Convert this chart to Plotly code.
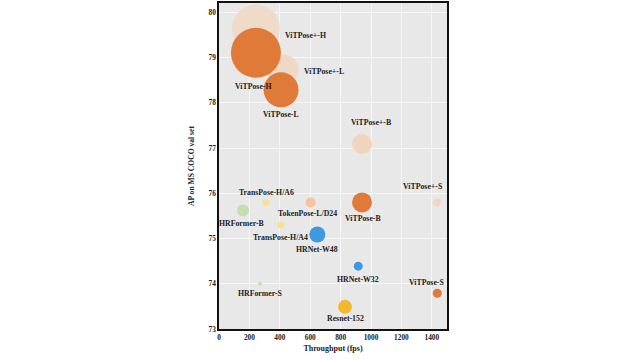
import plotly.graph_objects as go

models = ["ViTPose+-H", "ViTPose+-L", "ViTPose+-B", "ViTPose+-S",
          "ViTPose-H", "ViTPose-L", "ViTPose-B", "ViTPose-S",
          "TokenPose-L/D24", "TransPose-H/A6", "TransPose-H/A4",
          "HRFormer-B", "HRFormer-S", "HRNet-W48", "HRNet-W32", "Resnet-152"]
throughput = [243, 421, 941, 1434,
              243, 408, 941, 1436,
              603, 309, 405,
              158, 270, 647, 916, 829]
ap = [79.65, 78.73, 77.09, 75.80,
      79.11, 78.29, 75.80, 73.79,
      75.80, 75.80, 75.30,
      75.62, 74.00, 75.09, 74.39, 73.49]
bubble = [48, 31, 20, 8,
          50, 35, 20, 9,
          10, 7, 7,
          12, 4, 16, 9, 14]
colors = ["#efdbc9", "#efd8c4", "#f0d4bd", "#f2d3bd",
          "#e07a38", "#e07a38", "#e07a38", "#e07a38",
          "#f5c49f", "#f8e08c", "#f8e08c",
          "#c4deaf", "#c4deaf", "#3d9ae0", "#3d9ae0", "#f4b82e"]
# label offsets in pixels (dx right, dy down)
label_dx = [50, 41, 9, -14, -2, 0, 1, -11, -3, 1, 0, -2, 0, 0, 0, 0]
label_dy = [7, 2, -22, -16, 34, 25, 16, -11, 11, -10, 12, 12.5, 10, 15, 13, 12]

fig = go.Figure()
fig.add_trace(go.Scatter(
    x=throughput, y=ap, mode="markers",
    marker=dict(size=bubble, color=colors, opacity=1, line=dict(width=0)),
    hoverinfo="text", text=models, showlegend=False, cliponaxis=False))

serif = "Liberation Serif"
for m, xv, yv, dx, dy in zip(models, throughput, ap, label_dx, label_dy):
    fig.add_annotation(x=xv, y=yv, text=m, showarrow=False,
                       xshift=dx, yshift=-dy,
                       font=dict(family=serif, size=7.8, color="#222", weight="bold"))

axis_common = dict(showline=True, linecolor="#111", linewidth=1.5, mirror=True,
                   showgrid=True, gridcolor="#f6f6f6", gridwidth=1,
                   zeroline=False, ticks="", automargin=False,
                   tickfont=dict(family=serif, size=7.3, color="#222", weight="bold"))
fig.update_xaxes(range=[0, 1500], tickvals=[0, 200, 400, 600, 800, 1000, 1200, 1400],
                 title=dict(text="Throughput (fps)", standoff=5,
                            font=dict(family=serif, size=8, color="#222", weight="bold")),
                 **axis_common)
fig.update_yaxes(range=[73, 80.21], tickvals=[73, 74, 75, 76, 77, 78, 79, 80],
                 title=dict(text="AP on MS COCO val set", standoff=13,
                            font=dict(family=serif, size=7.6, color="#222", weight="bold")),
                 **axis_common)
fig.update_layout(width=638, height=359,
                  margin=dict(l=219, r=191, t=3, b=30),
                  plot_bgcolor="#e8e8e8", paper_bgcolor="white")
fig.write_html("out.html", config={"displayModeBar": False},
               post_script="document.body.style.margin='0';document.body.style.overflow='hidden';")
